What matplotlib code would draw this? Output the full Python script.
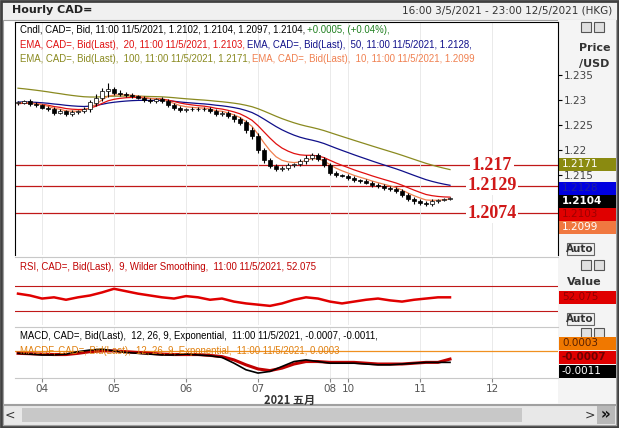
import matplotlib
matplotlib.use("Agg")
import matplotlib.pyplot as plt
import numpy as np
import pandas as pd
from matplotlib.patches import Rectangle

W, H = 619, 428
# ---- data ----
hours = list(range(0, 146, 2))  # trading-hour index (weekend removed), every 2 h
closes = [1.2295,1.2298,1.2292,1.2290,1.2285,1.2282,1.2275,1.2278,1.2272,1.2276,
          1.2278,1.2282,1.2295,1.2305,1.2318,1.2322,1.2315,1.2312,1.2310,1.2308,
          1.2305,1.2300,1.2298,1.2302,1.2298,1.2290,1.2285,1.2280,1.2282,1.2283,
          1.2282,1.2283,1.2278,1.2272,1.2275,1.2268,1.2262,1.2255,1.2240,1.2228,
          1.2200,1.2180,1.2168,1.2162,1.2165,1.2170,1.2172,1.2178,1.2185,1.2190,
          1.2182,1.2170,1.2155,1.2150,1.2148,1.2145,1.2140,1.2138,1.2135,1.2130,
          1.2128,1.2125,1.2122,1.2118,1.2110,1.2102,1.2098,1.2095,1.2092,1.2098,
          1.2100,1.2102,1.2104]
wick = [8,6,7,9,6,8,10,7,6,8, 6,9,10,14,12,25,10,9,8,7, 6,8,7,6,9,8,10,7,6,7,
        6,8,7,9,6,8,10,9,12,14, 12,10,9,8,7,8,6,9,10,8, 9,8,10,7,6,8,7,6,7,6,
        7,8,6,9,8,7,10,8,7,8, 6,5,4]  # in 1e-4
ema_seeds = {20: 1.2292, 50: 1.2296, 100: 1.2325, 10: 1.2293}
ema_spans = {20: 10, 50: 24, 100: 42, 10: 5}
ema_colors = {20: "#e01010", 50: "#10108a", 100: "#8a8a20", 10: "#f08050"}
rsi_hours = list(range(0, 146, 4))
rsi = [58,55,50,52,48,52,55,60,66,62,58,55,52,50,54,52,48,50,45,42,40,38,42,48,
       52,50,45,42,45,48,50,47,45,48,50,52,52]
macd = [0,-1,-2,-2,-1,2,4,5,3,1,0,-1,-2,-2,-1,-2,-3,-5,-12,-20,-24,-22,-16,-10,
        -8,-10,-12,-12,-12,-13,-14,-14,-13,-12,-11,-11,-11]
macdf = [0,-0.5,-1,-1.5,-1.5,0,2,3,3,2,1,0,-1,-1.5,-1.5,-1.5,-2.5,-4,-8,-14,-19,
         -21,-18,-13,-10,-10,-11,-11,-11,-12,-13,-13,-13,-12,-11,-11,-7]
tick_pos = [8, 32, 56, 80, 104, 110, 134, 158]
tick_lab = ["04", "05", "06", "07", "08", "10", "11", "12"]
levels = [1.217, 1.2129, 1.2074]
level_text = ["1.217", "1.2129", "1.2074"]
price_ticks = [1.215, 1.22, 1.225, 1.23, 1.235]

plt.rcParams['font.family'] = ['DejaVu Sans']
fig = plt.figure(figsize=(W/100, H/100), dpi=100)
fig.patch.set_facecolor("#f0f0f0")
renderer = fig.canvas.get_renderer()

def rect(x0, y0, x1, y1):
    return [x0/W, 1-y1/H, (x1-x0)/W, (y1-y0)/H]

def fx(x): return x/W
def fy(y): return 1-y/H

FS = 6.9
FAM = ["Liberation Sans Narrow", "Liberation Sans"]
def chain(pieces, x, y):
    for txt, col in pieces:
        t = fig.text(fx(x), fy(y), txt, fontsize=FS, va="center", color=col, family=FAM)
        x += t.get_window_extent(renderer).width + 2

# frame
bg = fig.add_axes([0, 0, 1, 1]); bg.set_xlim(0, W); bg.set_ylim(H, 0); bg.axis("off")
bg.add_patch(Rectangle((1, 1), W-2, H-2, fill=False, ec="#404040", lw=2))
bg.add_patch(Rectangle((3, 20), W-6, 384, fc="white", ec="#a0a0a0", lw=0.8))
bg.add_patch(Rectangle((558, 20), 58, 384, fc="#f4f4f4", ec="none"))
bg.add_patch(Rectangle((3, 405), W-6, 20, fc="#e8e8e8", ec="#a0a0a0", lw=0.8))
bg.add_patch(Rectangle((22, 408), 500, 14, fc="#c8c8c8", ec="none"))
bg.text(10, 415, "<", fontsize=9, va="center", ha="center", color="#333")
bg.text(590, 415, ">", fontsize=9, va="center", ha="center", color="#333")
bg.add_patch(Rectangle((597, 406), 18, 18, fc="#b8b8b8", ec="none"))
bg.text(606, 415, "»", fontsize=11, va="center", ha="center", color="#111", weight="bold")
bg.text(12, 10, "Hourly CAD=", fontsize=8, weight="bold", va="center", color="#222")
bg.text(612, 10, "16:00 3/5/2021 - 23:00 12/5/2021 (HKG)", fontsize=7.5, va="center", ha="right", color="#333")
for yy in (27, 265, 333):
    for xx in (586, 599):
        bg.add_patch(Rectangle((xx-5, yy-5), 10, 10, fc="#e0e0e0", ec="#555", lw=0.8))
bg.text(579, 48, "Price", fontsize=8, weight="bold", color="#333", va="center")
bg.text(579, 64, "/USD", fontsize=8, weight="bold", color="#333", va="center")
bg.text(567, 282, "Value", fontsize=8, weight="bold", color="#333", va="center")
for yy in (249, 319):
    bg.add_patch(Rectangle((567, yy-6), 27, 12, fc="#f0f0f0", ec="#666", lw=0.8))
    bg.text(580, yy, "Auto", fontsize=7.5, weight="bold", ha="center", va="center", color="#333")

# ---- main panel ----
ax = fig.add_axes(rect(15, 22, 558, 255))
ax.set_xlim(-1, 180); ax.set_ylim(1.199, 1.2456)
x = np.array(hours); c = np.array(closes)
o = np.r_[c[0], c[:-1]]
wk = np.array(wick)*1e-4/2
hi = np.maximum(o, c) + wk; lo = np.minimum(o, c) - wk
ax.vlines(x, lo, hi, color="black", lw=0.8, zorder=3)
for xi, oi, ci in zip(x, o, c):
    b0, b1 = min(oi, ci), max(oi, ci)
    ax.add_patch(Rectangle((xi-0.8, b0), 1.6, max(b1-b0, 0.0001),
                           fc="black" if ci < oi else "white", ec="black", lw=0.5, zorder=4))
for n in (100, 50, 20, 10):
    s = pd.Series([ema_seeds[n]] + closes).ewm(span=ema_spans[n], adjust=False).mean().values[1:]
    ax.plot(x, s, color=ema_colors[n], lw=0.9, zorder=2)
for lv, lt in zip(levels, level_text):
    ax.axhline(lv, color="#c01818", lw=0.9, zorder=1)
    ax.text(158, lv, lt, fontsize=13, weight="bold", color="#d01818", family="Liberation Serif",
            ha="center", va="center", zorder=5, bbox=dict(fc="white", ec="none", pad=1))
ax.set_xticks(tick_pos); ax.set_xticklabels([])
ax.tick_params(axis="x", length=0)
ax.grid(axis="x", color="#e6e6e6", lw=0.6)
ax.yaxis.tick_right(); ax.set_yticks(price_ticks)
ax.set_yticklabels([f"{t:g}" for t in price_ticks], fontsize=7.5, color="#444")
ax.tick_params(axis="y", length=3, pad=1)
ax.spines["bottom"].set_visible(False)
for sp in ("top", "left", "right"): ax.spines[sp].set_linewidth(0.8)
# legend text
chain([("Cndl, CAD=, Bid, 11:00 11/5/2021, 1.2102, 1.2104, 1.2097, 1.2104,", "black"),
       ("+0.0005, (+0.04%),", "#208020")], 20, 30)
chain([("EMA, CAD=, Bid(Last),  20, 11:00 11/5/2021, 1.2103,", ema_colors[20]),
       ("EMA, CAD=, Bid(Last),  50, 11:00 11/5/2021, 1.2128,", ema_colors[50])], 20, 45)
chain([("EMA, CAD=, Bid(Last),  100, 11:00 11/5/2021, 1.2171,", ema_colors[100]),
       ("EMA, CAD=, Bid(Last),  10, 11:00 11/5/2021, 1.2099", ema_colors[10])], 20, 59)
# value boxes
boxes = [(164, "1.2171", "#8a8a10", "white"), (188, "1.2128", "#0000e0", "#2020a0"),
         (201, "1.2104", "black", "white"), (214, "1.2103", "#e00000", "#a00000"),
         (227, "1.2099", "#f07840", "white")]
for yy, t, fc, tc in boxes:
    bg.add_patch(Rectangle((559, yy-6.5), 57, 13, fc=fc, ec="none"))
    bg.text(562, yy, t, fontsize=7.5, color=tc, va="center", weight="bold" if fc == "black" else "normal")

# ---- RSI ----
ar = fig.add_axes(rect(15, 257, 558, 325))
ar.set_xlim(-1, 180); ar.set_ylim(6.7, 118)
ar.plot(rsi_hours, rsi, color="#e00000", lw=1.8)
ar.axhline(70, color="#c01818", lw=0.8); ar.axhline(30, color="#c01818", lw=0.8)
ar.set_xticks(tick_pos); ar.grid(axis="x", color="#e6e6e6", lw=0.6)
ar.tick_params(length=0, labelbottom=False, labelleft=False)
for sp in ar.spines.values(): sp.set_visible(False)
ar.spines["top"].set_visible(True); ar.spines["top"].set_color("#c8c8c8")
chain([("RSI, CAD=, Bid(Last),  9, Wilder Smoothing,  11:00 11/5/2021, 52.075", "#c00000")], 20, 267)
bg.add_patch(Rectangle((559, 291), 57, 13, fc="#e00000", ec="none"))
bg.text(562, 297.5, "52.075", fontsize=7.5, color="#900000", va="center")

# ---- MACD ----
am = fig.add_axes(rect(15, 327, 558, 378))
am.set_xlim(-1, 180); am.set_ylim(-30e-4, 32e-4)
am.axhline(3e-4, color="#f09020", lw=0.9)
am.plot(rsi_hours, np.array(macdf)*1e-4, color="#c00000", lw=2.2)
am.plot(rsi_hours, np.array(macd)*1e-4, color="black", lw=1.2)
am.set_xticks(tick_pos); am.set_xticklabels(tick_lab, fontsize=7.5, color="#555")
am.grid(axis="x", color="#e6e6e6", lw=0.6)
am.tick_params(axis="x", length=3, color="#888", pad=1); am.tick_params(axis="y", length=0, labelleft=False)
for sp in am.spines.values(): sp.set_visible(False)
am.spines["top"].set_visible(True); am.spines["top"].set_color("#c8c8c8")
am.spines["bottom"].set_visible(True); am.spines["bottom"].set_color("#c8c8c8")
chain([("MACD, CAD=, Bid(Last),  12, 26, 9, Exponential,  11:00 11/5/2021, -0.0007, -0.0011,", "black")], 20, 336)
chain([("MACDF, CAD=, Bid(Last),  12, 26, 9, Exponential,  11:00 11/5/2021, 0.0003", "#e08010")], 20, 351)
for yy, t, fc, tc in [(343, "0.0003", "#f07800", "#5a2000"), (357, "-0.0007", "#e00000", "#700000"),
                      (371, "-0.0011", "black", "white")]:
    bg.add_patch(Rectangle((559, yy-6.5), 57, 13, fc=fc, ec="none"))
    bg.text(562, yy, t, fontsize=7.5, color=tc, va="center", weight="bold" if fc == "#e00000" else "normal")
fig.text(fx(290), fy(400), "2021 五月", fontsize=8, weight="bold", ha="center", va="center",
         family=["Noto Sans CJK SC", "DejaVu Sans"], color="#333")

fig.savefig("out.png", dpi=100)
